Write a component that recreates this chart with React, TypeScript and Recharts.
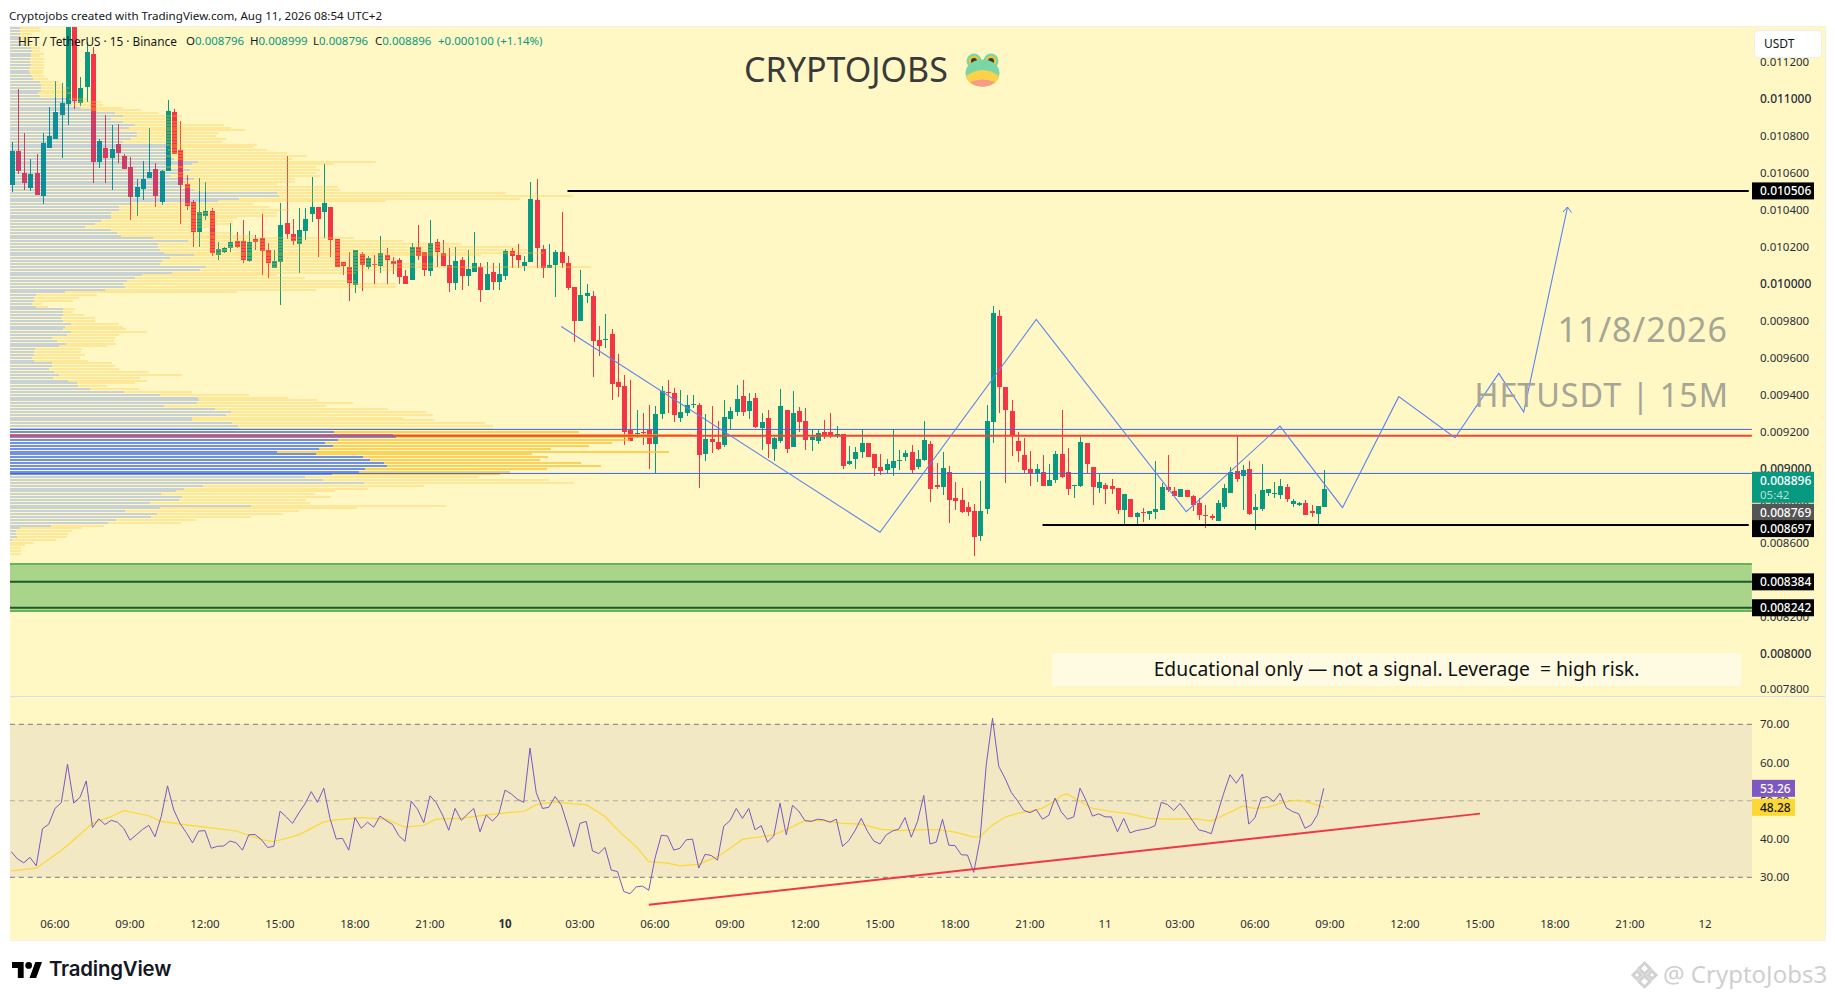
import React from "react";
import { Bar, BarChart, Cell, ComposedChart, Line, ReferenceArea, ReferenceDot, ReferenceLine, XAxis, YAxis } from "recharts";

// Prices are in millionths of a USDT.
const opens = [
  10538,10722,10602,10522,10602,10478,10738,10786,10916,10975,
  11390,10981,11067,11246,10662,10738,10684,10759,10694,10635,
  10473,10516,10576,10624,10446,10613,10932,10727,10543,10446,
  10284,10370,10397,10159,10176,10197,10235,10235,10127,10246,
  10251,10186,10089,10122,10332,10273,10219,10289,10381,10419,
  10392,10419,10246,10122,10094,9997,10165,10094,10111,10100,
  10159,10127,10132,10046,10024,10203,10176,10073,10230,10170,
  10105,10008,10132,10046,10067,10094,9970,10067,10013,10046,
  10181,10159,10100,10122,10457,10192,10089,10105,10176,10116,
  9986,9803,9938,9938,9700,9700,9732,9473,9451,9213,
  9191,9204,9213,9138,9300,9417,9413,9278,9305,9352,
  9349,9084,9165,9149,9132,9273,9311,9397,9316,9386,
  9224,9278,9111,9154,9322,9122,9316,9262,9160,9154,
  9203,9203,9185,9192,9030,9057,9095,9143,9084,9013,
  8997,9008,9049,9068,9095,9013,9051,9138,8916,8905,
  8986,8846,8835,8797,8776,8641,8786,9257,9830,9446,
  9316,9154,9078,9003,8981,8986,8911,8943,9084,8986,
  8912,8911,9143,9014,8900,8916,8911,8900,8781,8841,
  8743,8769,8759,8770,8781,8905,8884,8851,8889,8857,
  8819,8753,8749,8722,8797,8873,8992,8965,9003,8781,
  8786,8873,8871,8862,8905,8814,8808,8819,8776,8759,8796,
];
const highs = [
  10768,11055,10817,10678,10705,10819,10959,11100,11087,11390,
  11390,11120,11313,11285,10786,10916,10862,10867,10705,10689,
  10570,10667,10846,10657,10619,10997,10948,10884,10592,10457,
  10576,10554,10413,10230,10201,10330,10284,10348,10289,10267,
  10381,10222,10186,10439,10694,10354,10413,10411,10581,10419,
  10651,10419,10246,10122,10176,10186,10176,10154,10159,10262,
  10197,10149,10143,10078,10224,10322,10176,10348,10246,10240,
  10197,10203,10150,10186,10284,10114,10122,10114,10114,10192,
  10197,10219,10154,10554,10570,10213,10219,10186,10392,10154,
  9986,10078,10002,9965,9776,9841,9759,9624,9511,9484,
  9322,9305,9349,9343,9451,9484,9440,9430,9403,9403,
  9359,9300,9343,9262,9376,9338,9457,9484,9413,9413,
  9305,9322,9176,9435,9322,9424,9338,9332,9213,9213,
  9268,9305,9235,9192,9127,9122,9217,9143,9084,9084,
  9057,9217,9105,9105,9132,9105,9262,9154,9035,9095,
  9019,8932,8900,8824,8814,8938,9349,9884,9862,9446,
  9376,9203,9170,9100,9030,9078,9030,9100,9322,9116,
  8915,9176,9143,9014,8976,8927,8949,8900,8868,8841,
  8770,8792,8776,9046,8927,9078,8905,8895,8889,8862,
  8846,8808,8760,8835,8922,9014,9181,9024,9046,8868,
  9030,8895,8932,8949,8922,8841,8824,8835,8808,8803,8999,
];
const lows = [
  10498,10597,10511,10505,10484,10435,10738,10786,10684,10862,
  10948,10965,10986,10549,10630,10549,10511,10657,10624,10348,
  10370,10457,10576,10419,10430,10613,10705,10327,10402,10203,
  10203,10348,10154,10132,10170,10176,10197,10116,10122,10186,
  10051,10035,10089,9889,10246,10213,10062,10240,10340,10149,
  10251,10149,10094,10051,9911,9954,9965,10084,10002,10062,
  10002,10057,10002,10002,10024,10132,10046,10046,10094,10100,
  9959,9970,9970,9992,10067,9905,9970,9970,9970,10024,
  10089,10089,10073,10122,10089,10035,10089,9932,10089,9970,
  9689,9803,9900,9500,9614,9657,9376,9392,9132,9154,
  9172,9132,9003,8979,9273,9305,9257,9257,9289,9331,
  8900,9046,9089,9105,9122,9217,9289,9289,9273,9224,
  9105,9062,9046,9143,9089,9122,9203,9105,9100,9138,
  9165,9170,9170,9003,9024,9003,9062,9068,8965,8970,
  8976,8965,8997,9046,8981,9003,9046,8824,8895,8862,
  8711,8781,8765,8749,8532,8613,8759,9143,9305,8927,
  9073,9041,8981,8911,8932,8911,8911,8927,8954,8862,
  8846,8905,8981,8808,8873,8814,8868,8759,8700,8743,
  8700,8716,8727,8732,8781,8878,8857,8851,8851,8776,
  8727,8684,8727,8722,8786,8873,8932,8781,8754,8673,
  8776,8857,8846,8840,8824,8797,8803,8754,8743,8700,8796,
];
const closes = [
  10722,10613,10548,10597,10484,10765,10803,10932,10981,11390,
  10992,11062,11257,10662,10776,10684,10732,10711,10624,10473,
  10527,10570,10608,10478,10613,10938,10705,10538,10424,10284,
  10392,10397,10170,10192,10197,10230,10203,10132,10230,10230,
  10181,10116,10127,10322,10273,10235,10294,10354,10419,10354,
  10440,10240,10094,10100,10008,10186,10105,10143,10107,10170,
  10132,10111,10040,10002,10203,10154,10078,10224,10176,10100,
  10008,10127,10046,10084,10116,9970,10057,10013,10057,10181,
  10154,10132,10122,10462,10197,10089,10105,10176,10116,9981,
  9803,9943,9954,9695,9668,9706,9462,9446,9205,9154,
  9195,9200,9138,9300,9424,9413,9295,9311,9349,9356,
  9078,9165,9149,9111,9284,9316,9381,9311,9370,9230,
  9257,9138,9170,9343,9111,9305,9257,9160,9176,9197,
  9181,9181,9192,9019,9046,9095,9143,9068,9008,8992,
  9030,9046,9052,9089,8997,9057,9160,8895,8905,9008,
  8835,8830,8770,8770,8635,8776,9262,9846,9446,9322,
  9186,9100,8997,8981,9003,8911,8943,9084,8960,8895,
  8915,9149,9030,8905,8932,8895,8895,8781,8868,8743,
  8765,8766,8776,8787,8905,8889,8857,8895,8851,8808,
  8754,8750,8738,8819,8900,8987,8949,8997,8759,8797,
  8889,8895,8874,8911,8841,8830,8819,8754,8765,8803,8896,
];
const rsiValues = [
  36.7,34.8,33.8,35.2,33.0,42.7,43.9,48.0,49.5,59.6,
  49.4,50.9,55.2,43.0,45.3,43.8,44.9,44.4,42.8,39.7,
  41.1,42.5,43.6,40.6,45.9,53.9,47.6,44.1,41.7,39.0,
  42.1,42.2,37.6,38.1,38.2,39.5,39.0,37.1,41.1,41.2,
  39.9,37.8,38.1,47.3,45.8,44.1,46.8,49.2,52.4,49.6,
  53.3,45.4,40.0,40.2,37.1,45.6,42.8,44.4,43.1,46.0,
  44.8,43.8,40.9,39.4,49.9,47.8,44.3,51.3,49.5,46.3,
  42.3,48.0,44.9,46.5,48.0,41.9,46.3,44.7,46.5,52.8,
  51.8,50.4,49.6,63.8,52.1,48.0,48.3,51.1,48.9,43.7,
  38.0,44.1,44.6,36.9,36.2,37.8,31.9,31.5,26.3,25.7,
  27.5,27.7,26.6,35.0,41.0,40.8,37.1,37.6,39.8,40.0,
  32.4,36.0,35.7,34.5,43.4,44.8,48.0,45.4,48.0,42.4,
  43.5,39.2,40.8,49.4,41.1,48.8,47.3,44.8,44.6,45.2,
  45.0,44.4,45.2,38.1,39.6,42.2,45.4,42.0,39.5,38.7,
  41.1,42.1,42.6,45.6,40.5,44.6,51.4,38.7,39.2,45.2,
  38.4,38.3,35.9,35.8,31.3,39.9,59.4,71.6,59.0,55.9,
  52.2,50.0,47.5,46.9,47.7,45.2,46.2,50.7,47.1,45.2,
  45.8,53.3,50.0,46.0,46.6,45.8,45.8,41.9,45.4,41.6,
  42.2,42.5,42.8,43.5,49.6,49.0,47.5,49.3,47.2,44.8,
  42.4,42.0,41.4,46.7,52.0,56.8,54.6,57.0,43.9,45.6,
  50.7,51.1,49.8,52.0,48.2,47.2,46.6,42.8,43.7,46.4,53.26,
];
const rsiMaSlots = [
  0,4,8,10,13,16,18,22,24,28,32,36,40,42,46,50,52,56,60,63,66,68,72,76,80,82,84,87,90,92,95,97,100,102,105,107,110,
  111,113,115,117,119,122,124,127,130,133,136,139,142,145,148,151,154,155,157,159,161,163,165,167,168,169,171,173,176,179,182,185,188,190,192,195,197,199,201,204,206,208,210,
];
const rsiMaValues = [
  31.7,32.4,37.0,39.8,44.1,45.9,47.4,46.1,44.6,43.7,42.9,42.1,39.9,39.3,41.1,44.5,45.0,45.6,45.2,43.1,43.6,45.2,45.4,46.3,47.0,47.2,49.0,49.7,49.2,49.0,45.9,42.4,38.0,34.1,33.7,33.0,33.4,
  34.1,35.4,37.6,39.9,40.4,41.1,42.5,44.8,44.8,44.1,43.9,42.6,42.2,42.4,42.5,41.8,40.5,40.6,43.7,45.7,46.7,47.3,48.1,50.0,51.4,51.8,49.8,48.0,47.2,46.6,45.4,45.2,45.3,45.2,44.7,47.0,48.6,48.0,48.3,49.8,50.2,49.4,48.28,
];
const projectionSlots = [88,139,164,188,203,213,222,231,238,242,249];
const projectionPrices = [9773,8661,9811,8772,9235,8794,9394,9172,9520,9311,10419];

const profileUpper = [
  [25,50],[25,50],[25,30],[25,25],[25,25],[25,25],[35,20],[53,22],[55,20],[53,32],
  [53,22],[51,34],[51,34],[53,32],[50,35],[47,36],[50,33],[55,30],[57,38],[75,50],[79,56],
  [79,71],[79,66],[72,83],[75,70],[150,45],[170,60],[155,80],[180,105],[205,125],[265,110],
  [285,150],[255,150],[285,150],[315,227],[300,260],[275,320],[320,205],[320,200],[305,240],[285,250],[395,230],
  [405,210],[400,250],[405,295],[395,355],[415,298],[475,450],[460,360],[395,380],[455,330],[425,350],[405,380],
  [465,255],[445,275],[435,240],[435,395],[465,370],[675,580],[680,745],[580,710],[525,425],[305,310],
  [275,380],[275,430],[255,420],[255,420],[255,320],[230,335],[215,350],[190,325],[255,220],[270,295],[280,335],
  [362,508],[450,545],[375,765],[375,910],[380,930],[390,960],[465,725],[405,570],[385,590],[380,695],[495,975],
  [480,495],[410,465],[335,340],[315,430],[295,580],[285,690],[290,685],[240,535],[140,435],[65,155],
  [60,115],[60,100],[55,25],[65,30],[135,30],[133,27],[135,52],[130,85],[135,80],[155,120],
  [140,145],[135,158],[153,194],[145,130],[105,160],
  [119,144],[142,126],[124,121],[64,118],[61,119],[61,128],[56,121],[61,137],[107,151],[107,159],
  [99,176],[112,240],[124,311],[109,220],[147,200],[170,146],[172,74],[203,124],[289,172],[380,225],
  [476,227],[478,299],[473,395],[390,409],[519,437],[559,493],[547,523],[461,533],[461,611],[562,640],
  [577,645],[582,640],
];
const profileValueArea = [
  [820,620],[969,759],[976,649],[830,738],[797,726],[817,648],[782,586],[676,991],[774,546],[893,468],
  [911,430],[946,498],[954,541],[897,461],[883,382],[815,425],
];
const profileLower = [
  [745,439],[792,571],[896,531],[488,559],[440,466],[420,402],[382,390],[435,377],[428,321],
  [353,406],[610,493],[380,498],[291,440],[372,319],[357,253],[268,203],[248,185],[104,134],[26,156],
  [15,142],[15,132],[18,127],[5,112],[0,61],[0,38],[0,28],[0,28],[0,28],
];
const priceTicks = [7800,8000,8200,8400,8600,8800,9000,9200,9400,9600,9800,10000,10200,10400,10600,10800,11000,11200];
const rsiTicks = [30,40,50,60,70];
const timeSlots = [7,19,31,43,55,67,79,91,103,115,127,139,151,163,175,187,199,211,223,235,247,259,271];
const timeLabels = ["06:00","09:00","12:00","15:00","18:00","21:00","10","03:00","06:00","09:00","12:00","15:00","18:00","21:00","11","03:00","06:00","09:00","12:00","15:00","18:00","21:00","12"];

const SLOT_COUNT = 279;
const LAST_SLOT = SLOT_COUNT - 1;
const UI = "'Noto Sans', sans-serif";
const GREEN = "#089981";
const RED = "#f23645";

const slots = Array.from({ length: SLOT_COUNT }, (_, k) => k);
const candleRows = slots.map((k) =>
  k < opens.length
    ? { k, range: [lows[k], highs[k]], open: opens[k], high: highs[k], low: lows[k], close: closes[k] }
    : { k }
);
const overlayRows = slots.map((k) => {
  const i = projectionSlots.indexOf(k);
  return { k, projection: i >= 0 ? projectionPrices[i] : null };
});
const rsiRows = slots.map((k) => {
  const i = rsiMaSlots.indexOf(k);
  return { k, rsi: k < rsiValues.length ? rsiValues[k] : null, ma: i >= 0 ? rsiMaValues[i] : null };
});
const profileRows = [...profileUpper, ...profileValueArea, ...profileLower].map((r, row) => ({
  row,
  up: r[0],
  down: r[1],
  inValueArea: row >= profileUpper.length && row < profileUpper.length + profileValueArea.length,
}));
const ROW_FIRST = 28;
const ROW_LAST = 554;
const ROW_PITCH = (ROW_LAST - ROW_FIRST) / (profileRows.length - 1);

function Candle(props: any) {
  const { x, y, width, height, payload } = props;
  if (payload == null || payload.open == null || !height) return null;
  const { open, close, high, low } = payload;
  const perUnit = Math.abs(height) / (high - low || 1);
  const top = Math.min(y, y + height);
  const cx = Math.round(x + width / 2);
  const bodyTop = top + (high - Math.max(open, close)) * perUnit;
  const bodyH = Math.max(1, Math.abs(open - close) * perUnit);
  const fill = close >= open ? GREEN : RED;
  return (
    <g shapeRendering="crispEdges">
      <rect x={cx} y={top} width={1} height={Math.abs(height)} fill={fill} />
      <rect x={cx - 2} y={bodyTop} width={5} height={bodyH} fill={fill} />
    </g>
  );
}

function PriceTick(props: any) {
  const { y, payload } = props;
  const bold = payload.value % 1000 === 0;
  const dy = payload.value === 7800 ? 1.5 : 3.5;
  return (
    <text x={1760} y={y} dy={dy} fontSize={bold ? 12 : 11.5} fontFamily={UI} fontWeight={bold ? 500 : 400} fill="#2a2e39">
      {(payload.value / 1e6).toFixed(6)}
    </text>
  );
}
function RsiTick(props: any) {
  const { y, payload } = props;
  return (
    <text x={1760} y={y} dy={4} fontSize={11.5} fontFamily={UI} fill="#2a2e39">
      {payload.value.toFixed(2)}
    </text>
  );
}
function TimeTick(props: any) {
  const { x, y, payload } = props;
  const label = timeLabels[timeSlots.indexOf(payload.value)];
  const bold = label === "10";
  return (
    <text x={x} y={y} dy={15} textAnchor="middle" fontSize={11.5} fontWeight={bold ? 700 : 400} fontFamily={UI} fill="#2a2e39">
      {label}
    </text>
  );
}
function Tag({ cx, cy, text, sub, bg, fg, dy = 0, h = 17, w = 62 }: any) {
  const top = sub ? cy + dy : cy - h / 2 + dy;
  return (
    <g>
      <rect x={1752} y={top} width={w} height={h} fill={bg} />
      <text x={1760} y={top + 13} fontSize={12} fontWeight={500} fontFamily={UI} fill={fg}>{text}</text>
      {sub ? <text x={1760} y={top + 27} fontSize={11.5} fontFamily={UI} fill="#b7dcd2">{sub}</text> : null}
    </g>
  );
}
function ProjectionEnd(props: any) {
  const { cx, cy, payload } = props;
  if (payload == null || payload.k !== projectionSlots[projectionSlots.length - 1] || cy == null) {
    return <g key={`n${props.index}`} />;
  }
  return (
    <path key="arrow" d={`M${cx - 4.5} ${cy + 5} L${cx} ${cy} L${cx + 4} ${cy + 5.5}`} fill="none" stroke="#4f7df0" strokeWidth={1} />
  );
}

const abs = (left: number, top: number, extra: any = {}) => ({ position: "absolute", left, top, ...extra }) as React.CSSProperties;
const PRICE_DOMAIN = [7776, 11392];
const MAIN_H = 669;
const RSI_DOMAIN = [22.76, 77.4];
const legendValues = [
  { left: 186, head: "O", value: "0.008796" },
  { left: 250, head: "H", value: "0.008999" },
  { left: 313, head: "L", value: "0.008796" },
  { left: 375, head: "C", value: "0.008896" },
  { left: 438, head: "", value: "+0.000100 (+1.14%)" },
];

export default function App() {
  return (
    <div style={{ position: "absolute", left: 0, top: 0, width: 1835, height: 1000, background: "#fff", overflow: "hidden", fontFamily: UI }}>
      <div style={abs(9, 8, { fontSize: 11.6, color: "#131722", whiteSpace: "nowrap" })}>Cryptojobs created with TradingView.com, Aug 11, 2026 08:54 UTC+2</div>
      <div style={abs(10, 27, { width: 1815, height: 913, background: "#fff8c4", boxShadow: "0 0 0 1px #f1f0ea" })} />

      <div style={abs(0, 27)}>
        <ComposedChart width={1835} height={MAIN_H} data={candleRows} margin={{ top: 0, right: 83.125, bottom: 0, left: 8.125 }}>
          <XAxis dataKey="k" type="category" hide />
          <YAxis type="number" domain={PRICE_DOMAIN} hide allowDataOverflow />
          <Bar dataKey="range" barSize={5} shape={<Candle />} isAnimationActive={false} />
        </ComposedChart>
      </div>

      <div style={abs(0, ROW_FIRST - ROW_PITCH / 2)}>
        <BarChart layout="vertical" width={1835} height={ROW_PITCH * profileRows.length} data={profileRows} margin={{ top: 0, right: 84, bottom: 0, left: 10 }} barCategoryGap={0}>
          <XAxis type="number" domain={[0, 4403]} hide />
          <YAxis type="category" dataKey="row" hide />
          <Bar dataKey="up" stackId="v" barSize={2} shapeRendering="crispEdges" isAnimationActive={false}>
            {profileRows.map((r) => (
              <Cell key={r.row} fill="#2962ff" fillOpacity={r.inValueArea ? 0.68 : 0.26} />
            ))}
          </Bar>
          <Bar dataKey="down" stackId="v" barSize={2} shapeRendering="crispEdges" isAnimationActive={false}>
            {profileRows.map((r) => (
              <Cell key={r.row} fill="#fbc02d" fillOpacity={r.inValueArea ? 0.7 : 0.3} />
            ))}
          </Bar>
        </BarChart>
      </div>

      <div style={abs(0, 27)}>
        <ComposedChart width={1835} height={MAIN_H} data={overlayRows} margin={{ top: 0, right: 0, bottom: 0, left: 8.125 }}>
          <XAxis dataKey="k" type="category" scale="band" hide />
          <YAxis type="number" orientation="right" width={83.125} domain={PRICE_DOMAIN} ticks={priceTicks} interval={0} tick={<PriceTick />} tickLine={false} axisLine={false} allowDataOverflow />
          <ReferenceArea y1={8235} y2={8489} fill="#a9d58b" fillOpacity={1} stroke="none" />
          <ReferenceLine y={8489} stroke="#66b35e" strokeWidth={2} />
          <ReferenceLine y={8235} stroke="#66b35e" strokeWidth={2} />
          <ReferenceLine y={8393} stroke="#1c5a2a" strokeWidth={2} />
          <ReferenceLine y={8253} stroke="#1c5a2a" strokeWidth={2} />
          <ReferenceLine y={9217} stroke="#3b66e0" strokeWidth={1} />
          <ReferenceLine y={8979} stroke="#3b66e0" strokeWidth={1} />
          <ReferenceLine y={9183} stroke="#f44336" strokeWidth={2} />
          <ReferenceLine segment={[{ x: 89, y: 10506 }, { x: LAST_SLOT, y: 10506 }]} stroke="#000" strokeWidth={2} />
          <ReferenceLine segment={[{ x: 165, y: 8700 }, { x: LAST_SLOT, y: 8700 }]} stroke="#000" strokeWidth={2} />
          <Line dataKey="projection" connectNulls stroke="#5b84f2" strokeWidth={1.1} dot={<ProjectionEnd />} activeDot={false} isAnimationActive={false} />
        </ComposedChart>
      </div>

      <div style={abs(0, 27)}>
        <ComposedChart width={1835} height={MAIN_H} data={overlayRows} margin={{ top: 0, right: 83.125, bottom: 0, left: 8.125 }}>
          <XAxis dataKey="k" type="category" scale="band" hide />
          <YAxis type="number" domain={PRICE_DOMAIN} hide allowDataOverflow />
          <ReferenceDot x={LAST_SLOT} y={10506} ifOverflow="visible" shape={(p: any) => <Tag {...p} text="0.010506" bg="#000" fg="#fff" />} />
          <ReferenceDot x={LAST_SLOT} y={8896} ifOverflow="visible" shape={(p: any) => <Tag {...p} text="0.008896" sub="05:42" bg={GREEN} fg="#fff" h={31} dy={-17} />} />
          <ReferenceDot x={LAST_SLOT} y={8769} ifOverflow="visible" shape={(p: any) => <Tag {...p} text="0.008769" bg="#555" fg="#fff" />} />
          <ReferenceDot x={LAST_SLOT} y={8697} ifOverflow="visible" shape={(p: any) => <Tag {...p} text="0.008697" bg="#000" fg="#fff" dy={3} />} />
          <ReferenceDot x={LAST_SLOT} y={8393} ifOverflow="visible" shape={(p: any) => <Tag {...p} text="0.008384" bg="#000" fg="#fff" />} />
          <ReferenceDot x={LAST_SLOT} y={8253} ifOverflow="visible" shape={(p: any) => <Tag {...p} text="0.008242" bg="#000" fg="#fff" />} />
        </ComposedChart>
      </div>

      <div style={abs(10, 696, { width: 1815, height: 1, background: "#d8dde8" })} />

      <div style={abs(0, 696)}>
        <ComposedChart width={1835} height={244} data={rsiRows} margin={{ top: 0, right: 0, bottom: 0, left: 8.125 }}>
          <XAxis dataKey="k" type="category" scale="band" height={35} ticks={timeSlots} interval={0} tick={<TimeTick />} tickLine={false} axisLine={false} />
          <YAxis type="number" orientation="right" width={83.125} domain={RSI_DOMAIN} ticks={rsiTicks} interval={0} tick={<RsiTick />} tickLine={false} axisLine={false} allowDataOverflow />
          <ReferenceArea y1={30} y2={70} fill="#f2e8c4" fillOpacity={1} stroke="none" />
          <ReferenceLine y={70} stroke="#787b86" strokeDasharray="5 4" />
          <ReferenceLine y={50} stroke="#b2ad9c" strokeDasharray="5 4" />
          <ReferenceLine y={30} stroke="#787b86" strokeDasharray="5 4" />
          <Line dataKey="ma" connectNulls stroke="#fdd835" strokeWidth={1.2} dot={false} activeDot={false} isAnimationActive={false} />
          <Line dataKey="rsi" stroke="#7e57c2" strokeWidth={1} dot={false} activeDot={false} isAnimationActive={false} />
          <ReferenceLine segment={[{ x: 102, y: 22.8 }, { x: 235, y: 46.65 }]} stroke={RED} strokeWidth={2} />
        </ComposedChart>
      </div>

      <div style={abs(0, 696)}>
        <ComposedChart width={1835} height={244} data={rsiRows} margin={{ top: 0, right: 83.125, bottom: 35, left: 8.125 }}>
          <XAxis dataKey="k" type="category" scale="band" hide />
          <YAxis type="number" domain={RSI_DOMAIN} hide allowDataOverflow />
          <ReferenceDot x={LAST_SLOT} y={53.26} ifOverflow="visible" shape={(p: any) => <Tag {...p} text="53.26" bg="#7e57c2" fg="#fff" w={43} />} />
          <ReferenceDot x={LAST_SLOT} y={48.28} ifOverflow="visible" shape={(p: any) => <Tag {...p} text="48.28" bg="#fdd835" fg="#131722" w={43} />} />
        </ComposedChart>
      </div>

      <div style={abs(0, 27, { width: 10, height: 914, background: "#fff" })} />

      <div style={abs(18, 33, { fontSize: 11.8, color: "#131722", whiteSpace: "nowrap" })}>HFT / TetherUS · 15 · Binance</div>
      {legendValues.map((v) => (
        <div key={v.left} style={abs(v.left, 33, { fontSize: 11.5, lineHeight: "16px", color: GREEN, whiteSpace: "nowrap" })}>
          {v.head ? <span style={{ color: "#131722" }}>{v.head}</span> : null}
          {v.value}
        </div>
      ))}

      <div style={abs(744, 46, { fontSize: 34, lineHeight: "47px", color: "#3a3a3a", whiteSpace: "nowrap" })}>CRYPTOJOBS</div>
      <svg style={abs(964, 52)} width={37} height={36} viewBox="0 0 37 36">
        <circle cx={10} cy={9} r={7.5} fill="#7bd6a6" />
        <circle cx={27} cy={9} r={7.5} fill="#7bd6a6" />
        <circle cx={10} cy={9} r={5} fill="#f5c531" />
        <circle cx={27} cy={9} r={5} fill="#f5c531" />
        <circle cx={10} cy={9} r={3} fill="#3b3b33" />
        <circle cx={27} cy={9} r={3} fill="#3b3b33" />
        <ellipse cx={18.5} cy={21} rx={17} ry={13.5} fill="#7bd6a6" />
        <path d="M2 24 Q18.5 12 35 24 Q33 34 18.5 34.5 Q4 34 2 24Z" fill="#fbd24a" />
        <path d="M6 30 Q18.5 25 31 30 Q26 34.5 18.5 34.5 Q11 34.5 6 30Z" fill="#f79a86" />
      </svg>

      <div style={abs(1400, 306, { width: 328, textAlign: "right", fontSize: 34, lineHeight: "46px", letterSpacing: 1, color: "#a6a596", whiteSpace: "nowrap" })}>11/8/2026</div>
      <div style={abs(1400, 371, { width: 329, textAlign: "right", fontSize: 32.3, lineHeight: "46px", letterSpacing: 1, color: "#a6a596", whiteSpace: "nowrap" })}>HFTUSDT | 15M</div>

      <div style={abs(1052, 653, { width: 689, height: 33, lineHeight: "32px", background: "#fffbe3", textAlign: "center", fontSize: 19.3, color: "#111", whiteSpace: "pre" })}>
        Educational only — not a signal. Leverage  = high risk.
      </div>

      <div style={abs(1755, 31, { width: 66, height: 26, lineHeight: "26px", boxSizing: "border-box", paddingLeft: 9, fontSize: 12, color: "#131722", background: "#fff", borderRadius: 4, boxShadow: "0 0 0 1px #eeeeee" })}>USDT</div>

      <svg style={abs(12, 962)} width={30} height={16} viewBox="0 0 36 19">
        <path d="M14 19H7V7H0V0h14v19zM29 19h-8L28 0h8L29 19z" fill="#000" />
        <circle cx={20} cy={4} r={4} fill="#000" />
      </svg>
      <div style={abs(49, 954, { fontFamily: "Inter, sans-serif", fontWeight: 600, fontSize: 20.4, lineHeight: "30px", letterSpacing: -0.2, color: "#131722", whiteSpace: "nowrap" })}>TradingView</div>

      <svg style={abs(1630, 960)} width={29} height={30} viewBox="0 0 29 30">
        <g fill="none" stroke="#d2d2d2" strokeWidth={3}>
          <path d="M14.5 3 L20 8.5 L14.5 14 L9 8.5Z" />
          <path d="M14.5 16 L20 21.5 L14.5 27 L9 21.5Z" />
          <path d="M3 15 L7 11 L11 15 L7 19Z" />
          <path d="M18 15 L22 11 L26 15 L22 19Z" />
        </g>
      </svg>
      <div style={abs(1663, 956, { fontSize: 24, lineHeight: "36px", color: "#cfcfcf", whiteSpace: "nowrap" })}>@ CryptoJobs3</div>
    </div>
  );
}
